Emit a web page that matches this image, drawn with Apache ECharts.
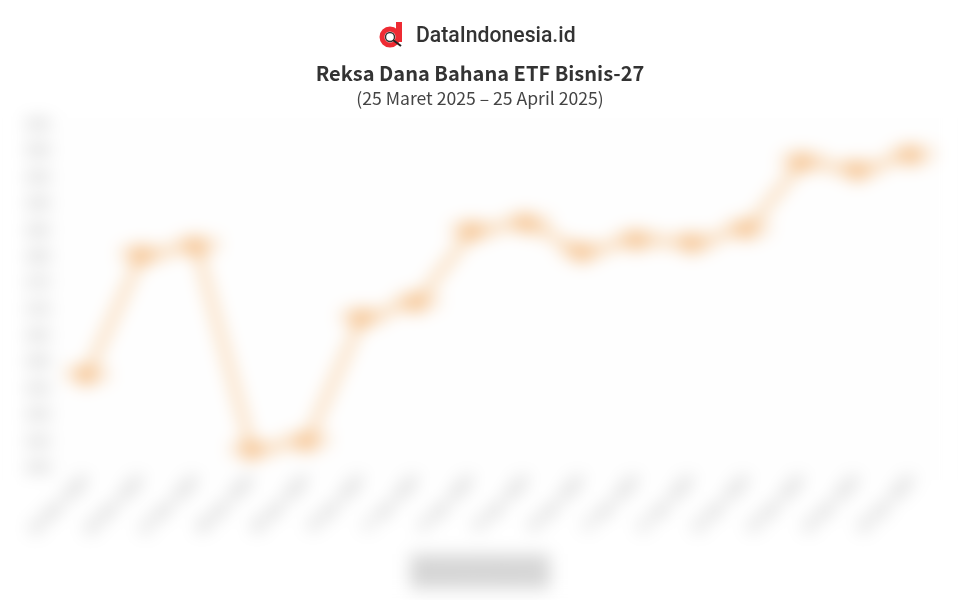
<!DOCTYPE html>
<html><head><meta charset="utf-8">
<style>
html,body{margin:0;padding:0;background:#fff;width:960px;height:600px;overflow:hidden}
#head{position:absolute;left:0;top:0;width:960px;height:116px;z-index:2;filter:blur(0.4px)}
#wrap{position:absolute;left:0;top:0;width:960px;height:600px;filter:blur(8.5px)}
#plot{width:960px;height:600px}
</style>
<script src="https://cdn.jsdelivr.net/npm/echarts@6/dist/echarts.min.js"></script>
</head><body>
<div id="wrap"><div id="plot"></div></div>
<div id="head"></div>
<script>
const dates=["25 Mar 2025","26 Mar 2025","27 Mar 2025","08 Apr 2025","09 Apr 2025","10 Apr 2025","11 Apr 2025","14 Apr 2025","15 Apr 2025","16 Apr 2025","17 Apr 2025","21 Apr 2025","22 Apr 2025","23 Apr 2025","24 Apr 2025","25 Apr 2025"];
const nav=[457.6,480.3,482,443.4,445,468.4,471.4,484.9,486.4,480.9,483.2,482.6,485.3,498,496.4,499.3];
const seriesName="Bahana ETF Bisnis-27";
const brand="DataIndonesia.id";
const titleText="Reksa Dana Bahana ETF Bisnis-27";
const subtitleText="(25 Maret 2025 – 25 April 2025)";

const plot=echarts.init(document.getElementById('plot'),null,{renderer:'canvas'});
plot.setOption({
  animation:false,backgroundColor:'#fff',
  graphic:[{type:'rect',z:-1,shape:{x:20,y:118,width:920,height:362},style:{fill:'#fefefe'}}],
  grid:{left:59,right:20,top:125,bottom:132},
  legend:{show:true,bottom:11,left:'center',icon:'none',itemWidth:0,itemGap:0,padding:[9,3],
    backgroundColor:'#d8d8d8',textStyle:{color:'#c8c8c8',fontSize:13,lineHeight:17,fontFamily:'Noto Sans'},data:[seriesName]},
  xAxis:{type:'category',data:dates,boundaryGap:true,axisLine:{show:false},axisTick:{show:false},
    axisLabel:{rotate:45,interval:0,fontSize:13,fontWeight:'bold',color:'#b4b4b4',fontFamily:'Noto Sans',margin:10,padding:[20,0,0,0]}},
  yAxis:{type:'value',min:440,max:505,interval:5,axisLine:{show:false},axisTick:{show:false},
    splitLine:{show:false},axisLabel:{fontSize:14,fontWeight:'bold',color:'#bcbcbc',fontFamily:'Noto Sans',margin:9}},
  series:[{type:'line',name:seriesName,data:nav,symbol:'circle',symbolSize:20,showAllSymbol:true,
    lineStyle:{color:'#f7cfa3',width:7},itemStyle:{color:'#f5c08a'},
    label:{show:true,position:'inside',fontSize:17,fontWeight:'bold',color:'#f5c08a',fontFamily:'Noto Sans',formatter:p=>p.value.toFixed(1)}}]
});

const head=echarts.init(document.getElementById('head'),null,{renderer:'canvas'});
head.setOption({
  animation:false,
  title:[
    {text:titleText,left:'center',top:58.5,textStyle:{fontFamily:'Noto Sans CJK SC',fontWeight:'bold',fontSize:20,color:'#333'}},
    {text:subtitleText,left:'center',top:85,textStyle:{fontFamily:'Noto Sans CJK SC',fontWeight:'normal',fontSize:17.6,color:'#444'}}
  ],
  graphic:[
    {type:'circle',shape:{cx:390,cy:37,r:8},style:{fill:'none',stroke:'#ee2b33',lineWidth:5}},
    {type:'rect',shape:{x:396,y:22,width:6,height:20},style:{fill:'#ee2b33'}},
    {type:'circle',shape:{cx:390,cy:37,r:4.5},style:{fill:'#fff',stroke:'#333',lineWidth:1.4}},
    {type:'line',shape:{x1:393,y1:40,x2:401,y2:46},style:{stroke:'#222',lineWidth:2}},
    {type:'text',x:416,y:26,style:{text:brand,font:'500 21.2px Roboto',fill:'#333'}}
  ]
});
</script>
</body></html>
